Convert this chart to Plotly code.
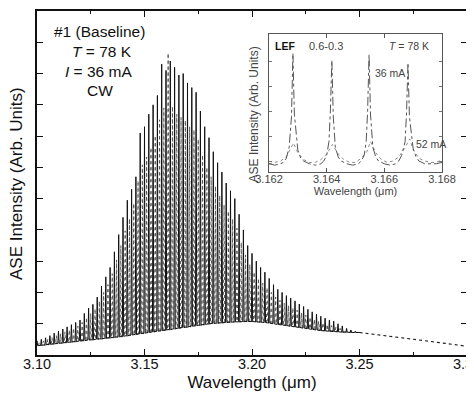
import plotly.graph_objects as go

# ---------------- main spectrum ----------------
fringe_wl = [3.100, 3.102, 3.104, 3.106, 3.108, 3.110, 3.112, 3.114, 3.116, 3.118,
             3.120, 3.122, 3.124, 3.126, 3.128, 3.130, 3.132, 3.134, 3.136, 3.138,
             3.140, 3.142, 3.144, 3.146, 3.148, 3.150, 3.152, 3.154, 3.156, 3.158,
             3.160, 3.162, 3.164, 3.166, 3.168, 3.170, 3.172, 3.174, 3.176, 3.178,
             3.180, 3.182, 3.184, 3.186, 3.188, 3.190, 3.192, 3.194, 3.196, 3.198,
             3.200, 3.202, 3.204, 3.206, 3.208, 3.210, 3.212, 3.214, 3.216, 3.218,
             3.220, 3.222, 3.224, 3.226, 3.228, 3.230, 3.232, 3.234, 3.236, 3.238,
             3.240, 3.242, 3.244, 3.246, 3.248, 3.250]
fringe_peak = [0.45, 0.50, 0.55, 0.62, 0.70, 0.76, 0.83, 0.90, 0.97, 1.04,
               1.12, 1.33, 1.50, 1.62, 1.85, 2.20, 2.50, 2.80, 3.30, 3.85,
               4.40, 4.95, 5.30, 5.70, 7.10, 7.30, 7.70, 8.00, 8.30, 9.30,
               9.10, 9.40, 9.20, 8.95, 9.00, 8.70, 8.55, 8.40, 7.80, 7.30,
               6.95, 6.50, 6.15, 5.85, 5.50, 5.25, 5.00, 4.50, 4.00, 3.50,
               3.25, 3.00, 2.80, 2.65, 2.45, 2.25, 2.10, 2.00, 1.90, 1.82,
               1.73, 1.63, 1.55, 1.46, 1.38, 1.30, 1.24, 1.18, 1.12, 1.08,
               1.00, 0.93, 0.85, 0.80, 0.76, 0.72]
fringe_valley = [0.30, 0.31, 0.33, 0.34, 0.36, 0.37, 0.39, 0.40, 0.42, 0.43,
                 0.45, 0.46, 0.48, 0.49, 0.51, 0.52, 0.54, 0.55, 0.57, 0.58,
                 0.60, 0.62, 0.64, 0.66, 0.68, 0.70, 0.72, 0.74, 0.76, 0.78,
                 0.80, 0.82, 0.84, 0.86, 0.88, 0.90, 0.92, 0.94, 0.96, 0.98,
                 1.00, 1.01, 1.02, 1.03, 1.04, 1.05, 1.06, 1.06, 1.07, 1.07,
                 1.07, 1.06, 1.05, 1.04, 1.02, 1.00, 0.98, 0.96, 0.94, 0.92,
                 0.90, 0.88, 0.86, 0.84, 0.82, 0.80, 0.78, 0.77, 0.76, 0.75,
                 0.74, 0.73, 0.73, 0.72, 0.72, 0.72]
sec_wl = [3.101, 3.103, 3.105, 3.107, 3.109, 3.111, 3.113, 3.115, 3.117, 3.119,
          3.121, 3.123, 3.125, 3.127, 3.129, 3.131, 3.133, 3.135, 3.137, 3.139,
          3.141, 3.143, 3.145, 3.147, 3.149, 3.151, 3.153, 3.155, 3.157, 3.159,
          3.161, 3.163, 3.165, 3.167, 3.169, 3.171, 3.173, 3.175, 3.177, 3.179,
          3.181, 3.183, 3.185, 3.187, 3.189, 3.191, 3.193, 3.195, 3.197, 3.199,
          3.201, 3.203, 3.205, 3.207, 3.209, 3.211, 3.213, 3.215, 3.217, 3.219,
          3.221, 3.223, 3.225, 3.227, 3.229, 3.231, 3.233, 3.235, 3.237, 3.239,
          3.241, 3.243, 3.245, 3.247, 3.249]
sec_peak = [0.40, 0.45, 0.50, 0.56, 0.62, 0.68, 0.74, 0.80, 0.86, 0.92,
            1.04, 1.20, 1.33, 1.48, 1.72, 2.00, 2.25, 2.60, 3.04, 3.50,
            3.97, 4.36, 4.85, 5.57, 6.08, 6.33, 6.63, 7.01, 7.52, 7.90,
            9.65, 7.95, 7.70, 7.60, 7.50, 7.30, 7.20, 6.90, 6.40, 6.00,
            5.70, 5.40, 5.10, 4.80, 4.60, 4.35, 4.05, 3.60, 3.20, 2.90,
            2.65, 2.45, 2.30, 2.15, 2.00, 1.85, 1.75, 1.66, 1.58, 1.51,
            1.43, 1.35, 1.28, 1.21, 1.14, 1.08, 1.03, 0.98, 0.94, 0.89,
            0.85, 0.80, 0.76, 0.74, 0.72]
tail_wl = [3.250, 3.260, 3.270, 3.280, 3.290, 3.300]
tail_int = [0.72, 0.64, 0.55, 0.46, 0.37, 0.28]

# ---------------- inset ----------------
inset36_wl = [3.1620, 3.1622, 3.1624, 3.1625, 3.1626, 3.1627, 3.16278, 3.16283, 3.16288, 3.1630,
              3.1631, 3.1632, 3.1634, 3.1636, 3.1638, 3.1639, 3.1640, 3.16408, 3.16413, 3.16418,
              3.16423, 3.1643, 3.1644, 3.1645, 3.1647, 3.1649, 3.1651, 3.1652, 3.1653, 3.16537,
              3.16542, 3.16547, 3.16552, 3.1656, 3.1657, 3.1658, 3.1660, 3.1662, 3.1664, 3.1665,
              3.1666, 3.16672, 3.16677, 3.16682, 3.16687, 3.1670, 3.1671, 3.1672, 3.1674, 3.1676,
              3.1678, 3.1680]
inset36_int = [0.06, 0.05, 0.06, 0.07, 0.10, 0.18, 0.40, 0.86, 0.42, 0.16,
               0.10, 0.08, 0.06, 0.05, 0.06, 0.08, 0.12, 0.22, 0.45, 0.81,
               0.40, 0.18, 0.11, 0.08, 0.06, 0.05, 0.06, 0.08, 0.12, 0.22,
               0.44, 0.85, 0.42, 0.18, 0.11, 0.08, 0.06, 0.05, 0.06, 0.08,
               0.12, 0.22, 0.43, 0.79, 0.40, 0.17, 0.11, 0.08, 0.06, 0.06,
               0.06, 0.07]
inset52_wl = [3.1620, 3.1622, 3.1624, 3.1626, 3.1627, 3.16285, 3.1630, 3.1632, 3.1634, 3.1636,
              3.1638, 3.1640, 3.16420, 3.1644, 3.1646, 3.1648, 3.1650, 3.1652, 3.1654, 3.16552,
              3.1657, 3.1659, 3.1661, 3.1663, 3.1665, 3.1667, 3.16688, 3.1670, 3.1672, 3.1674,
              3.1676, 3.1678, 3.1680]
inset52_int = [0.06, 0.07, 0.08, 0.11, 0.15, 0.21, 0.14, 0.09, 0.07, 0.07,
               0.09, 0.13, 0.20, 0.13, 0.09, 0.07, 0.07, 0.10, 0.15, 0.22,
               0.14, 0.09, 0.07, 0.08, 0.11, 0.17, 0.24, 0.16, 0.10, 0.08,
               0.07, 0.07, 0.09]

main_xticks = [3.10, 3.15, 3.20, 3.25, 3.30]
main_xticklabels = ["3.10", "3.15", "3.20", "3.25", "3.30"]
inset_xticks = [3.162, 3.164, 3.166, 3.168]
inset_xticklabels = ["3.162", "3.164", "3.166", "3.168"]

# ---- build comb polylines from the read fringe values ----
HW = 0.0003
px, py = [], []
for wl, pk, vl in zip(fringe_wl, fringe_peak, fringe_valley):
    px += [wl - HW, wl, wl + HW]
    py += [vl, pk, vl]

sx, sy = [], []
for wl, pk, vl in zip(sec_wl, sec_peak, fringe_valley):
    sx += [wl - HW, wl, wl + HW]
    sy += [vl, pk, vl]

FONT = "Liberation Sans, Arial, Helvetica, sans-serif"

fig = go.Figure()
fig.add_trace(go.Scatter(x=sx, y=sy, mode="lines",
                         line=dict(color="#555555", width=1, dash="dot"),
                         showlegend=False, hoverinfo="skip"))
fig.add_trace(go.Scatter(x=px, y=py, mode="lines",
                         line=dict(color="#111111", width=1),
                         showlegend=False, hoverinfo="skip"))
fig.add_trace(go.Scatter(x=tail_wl, y=tail_int, mode="lines",
                         line=dict(color="#222222", width=1.2, dash="dot"),
                         showlegend=False, hoverinfo="skip"))
fig.add_trace(go.Scatter(x=inset52_wl, y=inset52_int, mode="lines", xaxis="x2", yaxis="y2",
                         line=dict(color="#8a8a8a", width=1, dash="dot"),
                         showlegend=False, hoverinfo="skip"))
fig.add_trace(go.Scatter(x=inset36_wl, y=inset36_int, mode="lines", xaxis="x2", yaxis="y2",
                         line=dict(color="#555555", width=1, dash="dashdot"),
                         showlegend=False, hoverinfo="skip"))

fig.update_layout(
    width=474, height=393,
    margin=dict(l=29, r=15, t=1, b=46),
    paper_bgcolor="white", plot_bgcolor="white",
    font=dict(family=FONT, color="#111111"),
    xaxis=dict(range=[3.10, 3.30], tickvals=main_xticks, ticktext=main_xticklabels,
               ticks="inside", ticklen=6, tickwidth=1.2, tickcolor="#111",
               minor=dict(ticks="inside", ticklen=3, dtick=0.025, tick0=3.10, tickcolor="#111"),
               showline=True, linecolor="#111", linewidth=1.6, mirror="ticks",
               showgrid=False, zeroline=False, tickfont=dict(size=14.5),
               ticklabelstandoff=-5,
               title=dict(text="Wavelength (μm)", font=dict(size=17), standoff=5)),
    yaxis=dict(range=[0, 11], tickvals=[1, 2, 3, 4, 5, 6, 7, 8, 9, 10], showticklabels=False,
               ticks="inside", ticklen=6, tickwidth=1.2, tickcolor="#111",
               showline=True, linecolor="#111", linewidth=1.6, mirror="ticks",
               showgrid=False, zeroline=False),
    xaxis2=dict(domain=[0.5395, 0.9419], anchor="y2", range=[3.162, 3.168],
                tickvals=inset_xticks, ticktext=inset_xticklabels,
                ticks="inside", ticklen=4, tickcolor="#555",
                showline=True, linecolor="#555", linewidth=1, mirror="ticks",
                showgrid=False, zeroline=False, tickfont=dict(size=11, color="#444"),
                ticklabelstandoff=-3,
                title=dict(text="Wavelength (μm)", font=dict(size=11, color="#444"), standoff=2)),
    yaxis2=dict(domain=[0.5318, 0.9335], anchor="x2", range=[0, 1],
                tickvals=[0.08, 0.26, 0.44, 0.62, 0.80], showticklabels=False,
                ticks="inside", ticklen=3, tickcolor="#777",
                showline=True, linecolor="#555", linewidth=1, mirror="ticks",
                showgrid=False, zeroline=False),
)

# main y-axis title (placed at the far left as in the reference)
fig.add_annotation(text="ASE Intensity (Arb. Units)", xref="paper", yref="paper",
                   x=(9 - 29) / 430, y=(347 - 175) / 346, textangle=-90, showarrow=False,
                   font=dict(size=17, color="#111"), xanchor="center", yanchor="middle")

# inset y-axis title (placed as in the reference, slightly below the inset centre)
fig.add_annotation(text="ASE Intensity (Arb. Units)", xref="paper", yref="paper",
                   x=(246 - 29) / 430, y=(347 - 105) / 346, textangle=-90, showarrow=False,
                   font=dict(size=12, color="#444"), xanchor="center", yanchor="middle")

main_notes = [("#1 (Baseline)", 3.1293, 10.35),
              ("<i>T</i> = 78 K", 3.1300, 9.72),
              ("<i>I</i> = 36 mA", 3.1285, 9.08),
              ("CW", 3.1295, 8.45)]
for txt, xx, yy in main_notes:
    fig.add_annotation(text=txt, x=xx, y=yy, xref="x", yref="y", showarrow=False,
                       font=dict(size=15.5, color="#111"), xanchor="center", yanchor="middle")

inset_notes = [("<b>LEF</b>", 3.16254, 0.915, 10.5, "#111"),
               ("0.6-0.3", 3.16398, 0.915, 11, "#444"),
               ("<i>T</i> = 78 K", 3.16686, 0.915, 10.5, "#444"),
               ("36 mA", 3.16620, 0.72, 10.5, "#444"),
               ("52 mA", 3.16762, 0.20, 10.5, "#444")]
for txt, xx, yy, sz, col in inset_notes:
    fig.add_annotation(text=txt, x=xx, y=yy, xref="x2", yref="y2", showarrow=False,
                       font=dict(size=sz, color=col), xanchor="center", yanchor="middle")

fig.write_html("out.html")
